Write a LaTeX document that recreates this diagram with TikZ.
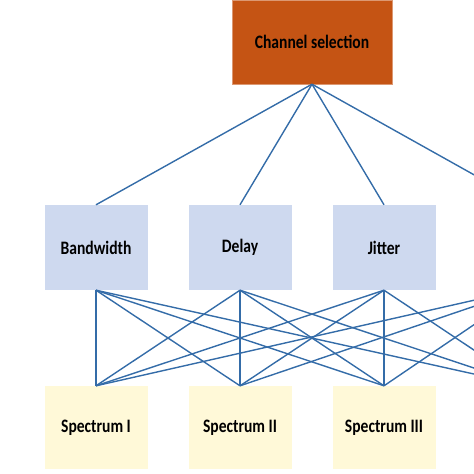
\documentclass[tikz,border=0pt]{standalone}
\usepackage{fontspec}
\setmainfont{Carlito}[FakeStretch=0.82]
\usetikzlibrary{positioning}

\definecolor{selorange}{RGB}{197,84,20}
\definecolor{critblue}{RGB}{206,217,239}
\definecolor{specyellow}{RGB}{255,249,216}
\definecolor{linkblue}{RGB}{52,108,168}

\begin{document}
\begin{tikzpicture}[x=1pt,y=-1pt,node distance=144pt,on grid,
    box/.style={minimum width=103pt,minimum height=85pt,inner sep=0pt,
      font=\fontsize{19}{22}\selectfont\bfseries},
    crit/.style={box,fill=critblue},
    spec/.style={box,fill=specyellow,minimum height=83pt},
    link/.style={draw=linkblue,line width=1.4pt}]
   \useasboundingbox (0,0) rectangle (474,474);
   \clip (0,0) rectangle (474,474);
   \node[box,fill=selorange,draw=selorange!60!white,minimum width=160pt,minimum height=84pt] (sel) at (312,42) {Channel selection};
   \node[crit] (bw) at (96,247.5) {Bandwidth};
   \node[crit] (delay) [right=of bw] {Delay};
   \node[crit] (jitter) [right=of delay] {Jitter};
   \node[spec] (sp1) [below=180pt of bw] {Spectrum I};
   \node[spec] (sp2) [right=of sp1] {Spectrum II};
   \node[spec] (sp3) [right=of sp2] {Spectrum III};
   % fourth column lies beyond the right edge
   \coordinate (c4n) at (528,205);
   \coordinate (c4s) at (528,288);
   \coordinate (s4n) at (528,386);
    \path[link]
    (sel.south) edge (bw.north)
        edge (delay.north)
        edge (jitter.north)
        edge (c4n)
    (bw.south) edge (sp1.north)
        edge (sp2.north)
        edge (sp3.north)
        edge (s4n)
    (delay.south) edge (sp1.north)
        edge (sp2.north)
        edge (sp3.north)
        edge (s4n)
    (jitter.south) edge (sp1.north)
        edge (sp2.north)
        edge (sp3.north)
        edge (s4n)
    (c4s) edge (sp1.north)
        edge (sp2.north)
        edge (sp3.north);
\end{tikzpicture}
\end{document}
